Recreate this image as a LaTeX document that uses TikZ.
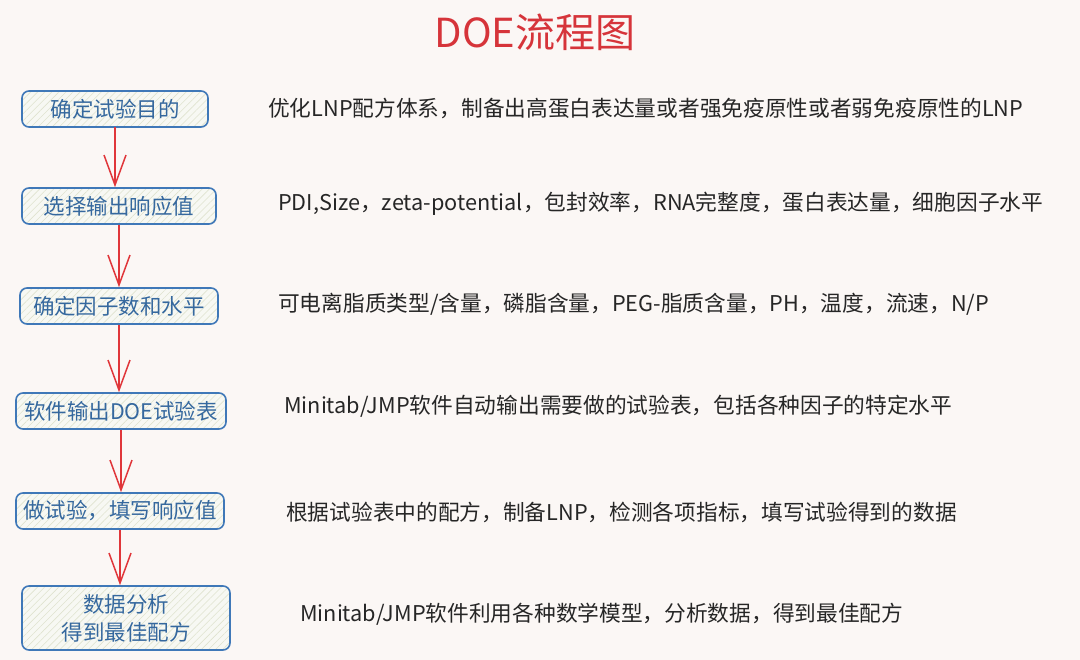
\documentclass[tikz,border=0pt]{standalone}
\usepackage{fontspec}
\setmainfont{Noto Sans CJK SC}
\usepackage{tikz}
\usetikzlibrary{positioning}
\usetikzlibrary{arrows.meta}
\usetikzlibrary{patterns.meta}
\definecolor{paper}{HTML}{FBF7F5}
\definecolor{boxblue}{HTML}{3F78B8}
\definecolor{boxtext}{HTML}{35689E}
\definecolor{boxfill}{HTML}{F7F8F3}
\definecolor{hatch}{HTML}{DFE3CF}
\definecolor{flowred}{HTML}{E0363A}
\definecolor{titlered}{HTML}{D6343A}
\tikzset{
    stepbox/.style={draw=boxblue, line width=1.6pt, rounded corners=7pt,
        preaction={fill=boxfill},
        pattern={Lines[angle=45,distance=5pt,line width=0.6pt]}, pattern color=hatch,
        text=boxtext, font=\fontsize{21.5}{28}\selectfont, align=center,
        minimum height=36pt, inner sep=2pt},
    flow/.style={draw=flowred, line width=1.5pt,
        -{Straight Barb[length=30pt,width=22pt,line width=1.5pt]}},
    desc/.style={anchor=west, text=black!85, font=\fontsize{21.7}{26}\selectfont, inner sep=0pt},
}
\begin{document}
\begin{tikzpicture}[x=1pt, y=-1pt]
    % paper
    \fill[paper] (0,0) rectangle (1080,660);
    \node[text=titlered, font=\fontsize{40}{44}\selectfont] (title) at (535,32) {DOE流程图};

    % steps
    \node[stepbox, minimum width=186pt] (s1) at (115,109) {确定试验目的};
    \node[stepbox, minimum width=194pt] (s2) at (119,206) {选择输出响应值};
    \node[stepbox, minimum width=198pt] (s3) at (119,306) {确定因子数和水平};
    \node[stepbox, minimum width=210pt] (s4) at (121,411) {软件输出DOE试验表};
    \node[stepbox, minimum width=208pt] (s5) at (120,511) {做试验，填写响应值};
    \node[stepbox, minimum width=208pt, minimum height=64pt] (s6) at (126,618) {数据分析\\得到最佳配方};

    \foreach \a/\b in {s1/s2, s2/s3, s3/s4, s4/s5, s5/s6}
        \draw[flow] (\a.south) -- (\a.south |- \b.north);

    % notes
    \node[desc] (d1) at (268,108) {优化LNP配方体系，制备出高蛋白表达量或者强免疫原性或者弱免疫原性的LNP};
    \node[desc] (d2) at (278,204) {PDI,Size，zeta-potential，包封效率，RNA完整度，蛋白表达量，细胞因子水平};
    \node[desc] (d3) at (278,304) {可电离脂质类型/含量，磷脂含量，PEG-脂质含量，PH，温度，流速，N/P};
    \node[desc] (d4) at (284,406) {Minitab/JMP软件自动输出需要做的试验表，包括各种因子的特定水平};
    \node[desc] (d5) at (286,512) {根据试验表中的配方，制备LNP，检测各项指标，填写试验得到的数据};
    \node[desc] (d6) at (300,614) {Minitab/JMP软件利用各种数学模型，分析数据，得到最佳配方};
\end{tikzpicture}
\end{document}
